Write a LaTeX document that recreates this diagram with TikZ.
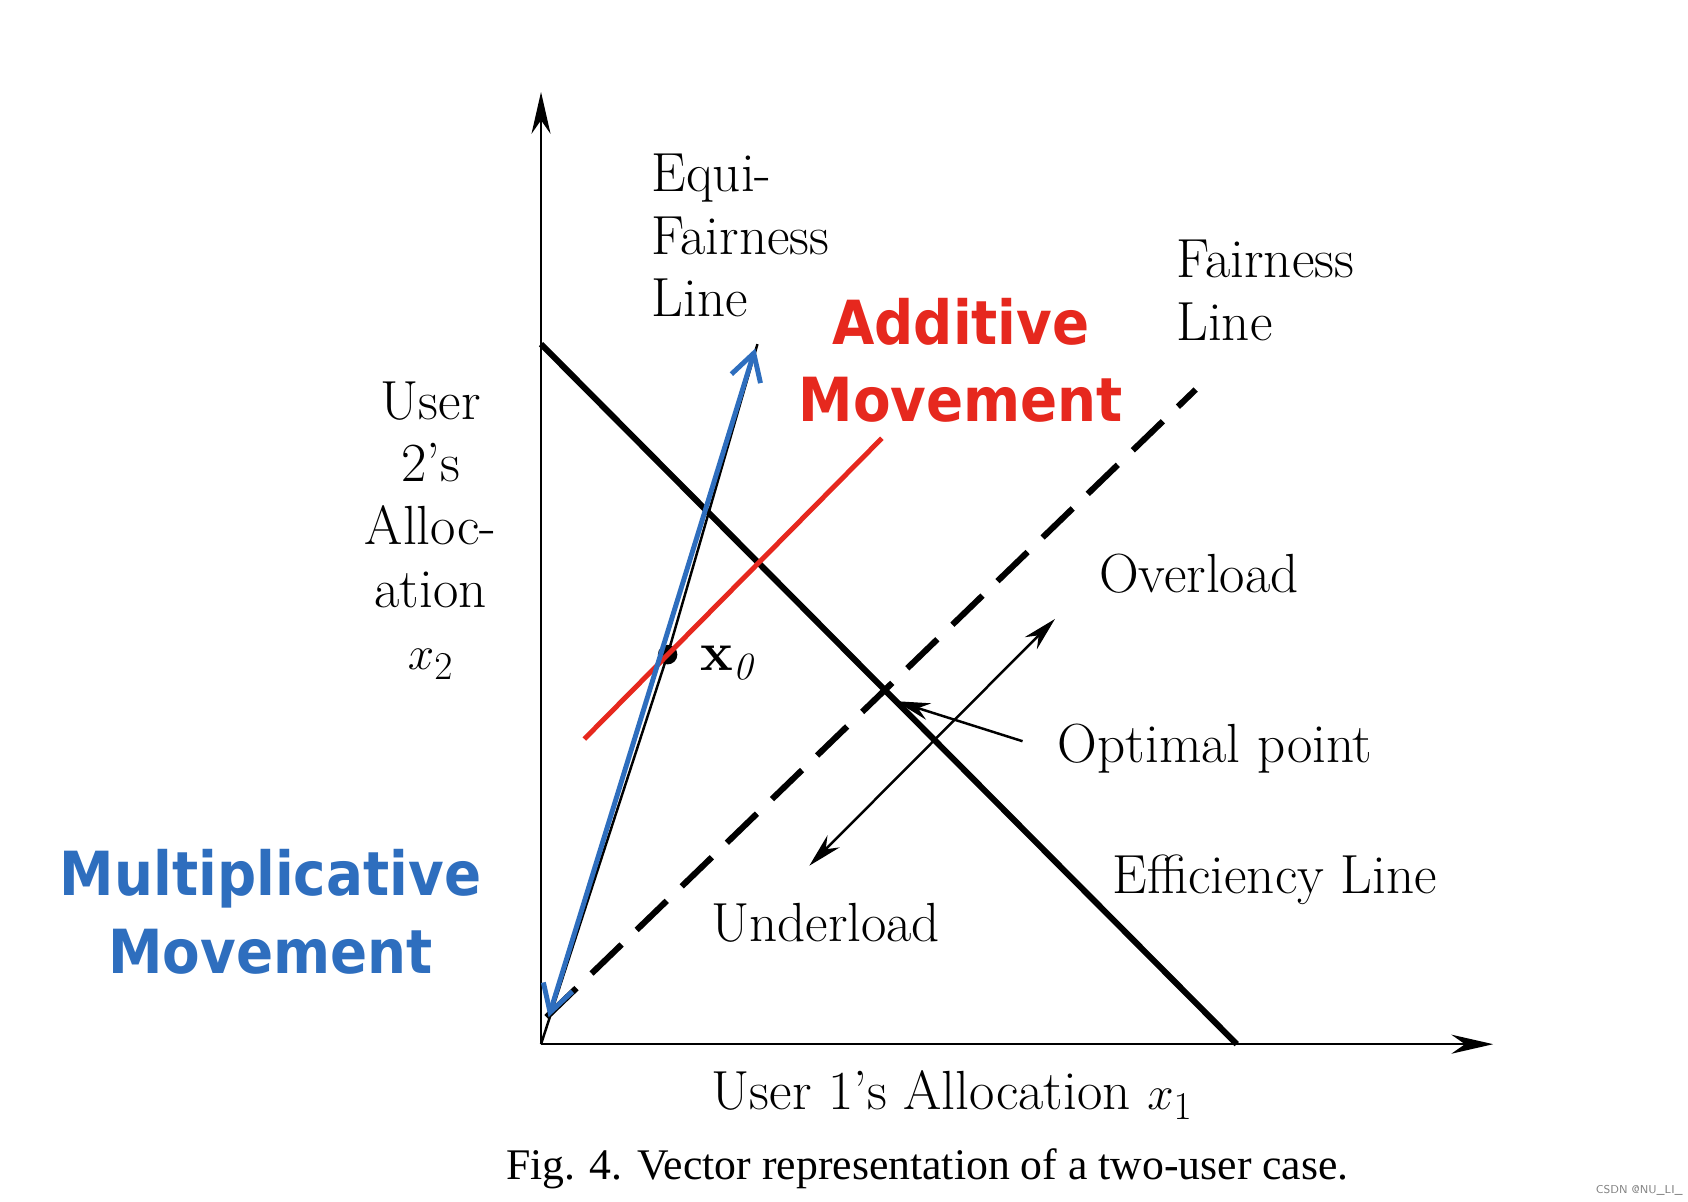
\documentclass[tikz,border=0pt]{standalone}
\usepackage{fontspec}
\setmainfont{Latin Modern Roman}
\newfontfamily\sansb{DejaVu Sans}[FakeStretch=0.9]
\newfontfamily\capf{Liberation Serif}
\usetikzlibrary{arrows.meta}
\begin{document}
\begin{tikzpicture}[x=0.02cm,y=-0.02cm,
  lbl/.style={font=\fontsize{29}{33}\selectfont,align=center},
  blab/.style={font=\sansb\bfseries\fontsize{32}{41}\selectfont,align=center},
  thick2/.style={line width=3.2pt},
  thin2/.style={line width=1.3pt}]
\useasboundingbox (0,0) rectangle (1560,1110);
\coordinate (O) at (500,965);
\coordinate (Ytop) at (500,85);
\coordinate (Xend) at (1380,965);
\coordinate (E1) at (500,318);
\coordinate (E2) at (1143,965);
\coordinate (F1) at (505,940);
\coordinate (F2) at (1105,360);
\coordinate (X0) at (617,605);
\coordinate (Q1) at (700,318);
\coordinate (B1) at (507,940);
\coordinate (B2) at (698,322);
\coordinate (R1) at (540,683);
\coordinate (R2) at (815,405);
\coordinate (D1) at (748,800);
\coordinate (D2) at (975,572);
\coordinate (P1) at (945,685);
\coordinate (P2) at (828,648);
\draw[thin2,-{Stealth[length=22pt,width=10pt]}] (O) -- (Ytop);
\draw[thin2,-{Stealth[length=22pt,width=10pt]}] (O) -- (Xend);
\draw[thick2] (E1) -- (E2);
\draw[thick2,dash pattern=on 22pt off 11pt] (F1) -- (F2);
\draw[thin2] (O) -- (X0) -- (Q1);
\fill (X0) circle (9);
\draw[thin2,-{Stealth[length=18pt,width=9pt]}] (P1) -- (P2);
\draw[thin2,{Stealth[length=18pt,width=9pt]}-{Stealth[length=18pt,width=9pt]}] (D1) -- (D2);
\draw[line width=2.6pt,color={rgb,255:red,230;green,40;blue,30}] (R1) -- (R2);
\draw[line width=2.6pt,color={rgb,255:red,46;green,110;blue,190},{Straight Barb[length=14pt,width=16pt]}-{Straight Barb[length=14pt,width=16pt]}] (B1) -- (B2);
\node[lbl,anchor=north west,align=left] (eq) at (596,136) {Equi-\\Fairness\\Line};
\node[lbl,anchor=north west,align=left] (fl) at (1081,216) {Fairness\\Line};
\node[lbl] (u2) at (398,490) {User\\2's\\Alloc-\\ation\\$x_2$};
\node[lbl] (ov) at (1108,530) {Overload};
\node[lbl] (op) at (1123,692) {Optimal point};
\node[lbl] (ef) at (1178,813) {Efficiency Line};
\node[lbl] (ul) at (763,853) {Underload};
\node[lbl] (xl) at (880,1012) {User 1's Allocation $x_1$};
\node[lbl] (x0) at (672,613) {$\mathbf{x}_{\mathit{0}}$};
\node[font=\capf\fontsize{23}{26}\selectfont] (cap) at (857,1080) {Fig. 4. Vector representation of a two-user case.};
\node[blab,text={rgb,255:red,230;green,40;blue,30}] (add) at (888,333) {Additive\\Movement};
\node[blab,text={rgb,255:red,46;green,110;blue,190}] (mul) at (250,843) {Multiplicative\\Movement};
\node[font=\sffamily\fontsize{6}{7}\selectfont,text=gray] (cs) at (1515,1100) {CSDN @NU\_LI\_};
\end{tikzpicture}
\end{document}
